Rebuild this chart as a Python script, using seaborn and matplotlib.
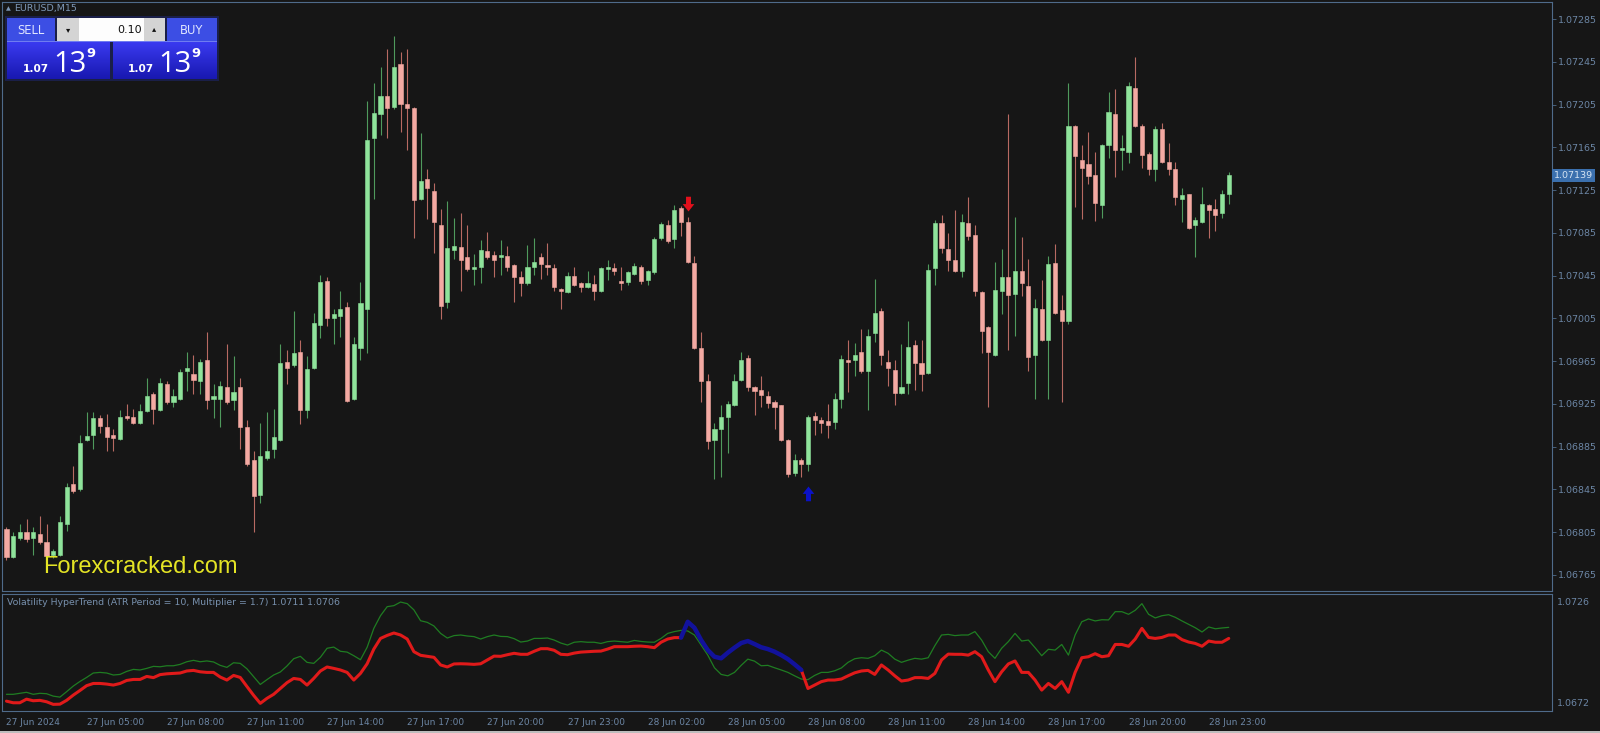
import numpy as np
import pandas as pd
import matplotlib
matplotlib.use("Agg")
from matplotlib import pyplot as plt
from matplotlib.path import Path
from matplotlib.patches import Rectangle
from matplotlib.colors import LinearSegmentedColormap
import matplotlib.transforms as mtransforms
import seaborn as sns

# EURUSD M15 candles, 27 Jun 02:00 -> 28 Jun 23:45
opens = [
    1.06808, 1.06782, 1.06800, 1.06805, 1.06800, 1.06803, 1.06796, 1.06784, 1.06784, 1.06813, 1.06850, 1.06845,
    1.06891, 1.06896, 1.06912, 1.06903, 1.06896, 1.06892, 1.06914, 1.06913, 1.06907, 1.06918, 1.06934, 1.06919,
    1.06944, 1.06927, 1.06930, 1.06956, 1.06953, 1.06946, 1.06966, 1.06930, 1.06930, 1.06941, 1.06929, 1.06941,
    1.06903, 1.06873, 1.06840, 1.06874, 1.06883, 1.06891, 1.06964, 1.06961, 1.06974, 1.06919, 1.06959, 1.06999,
    1.07040, 1.07005, 1.07007, 1.07016, 1.06930, 1.06977, 1.07014, 1.07174, 1.07196, 1.07213, 1.07203, 1.07243,
    1.07206, 1.07202, 1.07117, 1.07135, 1.07124, 1.07092, 1.07020, 1.07069, 1.07072, 1.07062, 1.07051, 1.07053,
    1.07068, 1.07064, 1.07062, 1.07063, 1.07055, 1.07044, 1.07038, 1.07053, 1.07062, 1.07055, 1.07052, 1.07032,
    1.07030, 1.07045, 1.07038, 1.07034, 1.07037, 1.07031, 1.07051, 1.07052, 1.07040, 1.07039, 1.07047, 1.07053,
    1.07041, 1.07048, 1.07080, 1.07092, 1.07079, 1.07108, 1.07095, 1.07057, 1.06977, 1.06946, 1.06891, 1.06902,
    1.06913, 1.06924, 1.06947, 1.06968, 1.06941, 1.06938, 1.06932, 1.06927, 1.06924, 1.06891, 1.06860, 1.06873,
    1.06869, 1.06914, 1.06910, 1.06909, 1.06908, 1.06930, 1.06966, 1.06966, 1.06974, 1.06956, 1.06991, 1.07012,
    1.06964, 1.06957, 1.06935, 1.06945, 1.06980, 1.06963, 1.06954, 1.07052, 1.07094, 1.07070, 1.07060, 1.07049,
    1.07094, 1.07083, 1.07030, 1.06997, 1.06971, 1.07031, 1.07044, 1.07028, 1.07049, 1.07035, 1.06971, 1.07014,
    1.06985, 1.07057, 1.07013, 1.07003, 1.07185, 1.07153, 1.07149, 1.07139, 1.07111, 1.07167, 1.07196, 1.07163,
    1.07161, 1.07221, 1.07185, 1.07159, 1.07145, 1.07182, 1.07151, 1.07145, 1.07117, 1.07121, 1.07092, 1.07095,
    1.07111, 1.07107, 1.07104, 1.07121]
highs = [
    1.06810, 1.06805, 1.06813, 1.06817, 1.06810, 1.06820, 1.06813, 1.06789, 1.06820, 1.06851, 1.06867, 1.06896,
    1.06917, 1.06917, 1.06915, 1.06916, 1.06902, 1.06919, 1.06925, 1.06920, 1.06925, 1.06949, 1.06936, 1.06949,
    1.06946, 1.06939, 1.06958, 1.06974, 1.06971, 1.06967, 1.06992, 1.06944, 1.06946, 1.06981, 1.06970, 1.06949,
    1.06910, 1.06881, 1.06907, 1.06917, 1.06920, 1.06981, 1.06975, 1.07012, 1.06985, 1.06970, 1.07010, 1.07046,
    1.07044, 1.07014, 1.07031, 1.07020, 1.06988, 1.07039, 1.07208, 1.07225, 1.07240, 1.07257, 1.07269, 1.07254,
    1.07257, 1.07203, 1.07178, 1.07145, 1.07132, 1.07107, 1.07115, 1.07099, 1.07104, 1.07092, 1.07065, 1.07078,
    1.07086, 1.07068, 1.07078, 1.07073, 1.07056, 1.07049, 1.07074, 1.07080, 1.07066, 1.07076, 1.07056, 1.07033,
    1.07048, 1.07053, 1.07039, 1.07049, 1.07046, 1.07053, 1.07060, 1.07057, 1.07053, 1.07049, 1.07057, 1.07055,
    1.07050, 1.07081, 1.07095, 1.07097, 1.07111, 1.07110, 1.07100, 1.07063, 1.06992, 1.06953, 1.06907, 1.06924,
    1.06928, 1.06953, 1.06974, 1.06971, 1.06942, 1.06951, 1.06937, 1.06929, 1.06924, 1.06892, 1.06878, 1.06874,
    1.06915, 1.06917, 1.06913, 1.06925, 1.06935, 1.06971, 1.06985, 1.06982, 1.06995, 1.06995, 1.07042, 1.07015,
    1.06975, 1.06966, 1.06981, 1.07003, 1.06985, 1.06985, 1.07056, 1.07097, 1.07102, 1.07085, 1.07106, 1.07103,
    1.07119, 1.07092, 1.07031, 1.06998, 1.07058, 1.07070, 1.07196, 1.07100, 1.07081, 1.07061, 1.07023, 1.07041,
    1.07063, 1.07075, 1.07027, 1.07225, 1.07186, 1.07167, 1.07179, 1.07161, 1.07168, 1.07217, 1.07220, 1.07177,
    1.07226, 1.07250, 1.07187, 1.07161, 1.07185, 1.07188, 1.07169, 1.07151, 1.07127, 1.07121, 1.07100, 1.07128,
    1.07112, 1.07117, 1.07125, 1.07142]
lows = [
    1.06779, 1.06781, 1.06798, 1.06796, 1.06784, 1.06794, 1.06781, 1.06781, 1.06783, 1.06806, 1.06842, 1.06844,
    1.06890, 1.06883, 1.06898, 1.06881, 1.06881, 1.06891, 1.06910, 1.06906, 1.06906, 1.06917, 1.06906, 1.06918,
    1.06925, 1.06922, 1.06929, 1.06937, 1.06934, 1.06934, 1.06920, 1.06912, 1.06903, 1.06925, 1.06919, 1.06883,
    1.06867, 1.06805, 1.06832, 1.06873, 1.06874, 1.06890, 1.06944, 1.06960, 1.06906, 1.06912, 1.06958, 1.06987,
    1.06998, 1.06981, 1.06988, 1.06927, 1.06929, 1.06966, 1.06973, 1.07117, 1.07177, 1.07174, 1.07201, 1.07179,
    1.07163, 1.07080, 1.07116, 1.07098, 1.07066, 1.07004, 1.07015, 1.07061, 1.07031, 1.07049, 1.07036, 1.07038,
    1.07061, 1.07044, 1.07046, 1.07049, 1.07020, 1.07026, 1.07036, 1.07046, 1.07042, 1.07046, 1.07031, 1.07014,
    1.07029, 1.07035, 1.07030, 1.07033, 1.07022, 1.07030, 1.07041, 1.07046, 1.07032, 1.07036, 1.07046, 1.07037,
    1.07036, 1.07047, 1.07078, 1.07076, 1.07071, 1.07082, 1.07057, 1.06976, 1.06927, 1.06883, 1.06855, 1.06857,
    1.06879, 1.06923, 1.06946, 1.06937, 1.06915, 1.06922, 1.06921, 1.06902, 1.06890, 1.06857, 1.06858, 1.06857,
    1.06862, 1.06896, 1.06898, 1.06893, 1.06902, 1.06921, 1.06936, 1.06951, 1.06954, 1.06919, 1.06983, 1.06961,
    1.06942, 1.06924, 1.06934, 1.06934, 1.06938, 1.06937, 1.06953, 1.07036, 1.07066, 1.07049, 1.07048, 1.07044,
    1.07078, 1.07026, 1.06973, 1.06922, 1.06970, 1.07009, 1.06975, 1.06989, 1.07026, 1.06956, 1.06930, 1.06984,
    1.06930, 1.07009, 1.06927, 1.07000, 1.07109, 1.07098, 1.07131, 1.07096, 1.07099, 1.07155, 1.07137, 1.07144,
    1.07150, 1.07184, 1.07146, 1.07139, 1.07134, 1.07150, 1.07139, 1.07111, 1.07095, 1.07089, 1.07062, 1.07094,
    1.07080, 1.07087, 1.07099, 1.07112]
closes = [
    1.06782, 1.06801, 1.06805, 1.06799, 1.06805, 1.06796, 1.06783, 1.06787, 1.06815, 1.06847, 1.06844, 1.06888,
    1.06895, 1.06912, 1.06904, 1.06894, 1.06893, 1.06913, 1.06912, 1.06907, 1.06918, 1.06932, 1.06920, 1.06945,
    1.06927, 1.06932, 1.06955, 1.06959, 1.06947, 1.06964, 1.06929, 1.06932, 1.06942, 1.06927, 1.06936, 1.06903,
    1.06869, 1.06839, 1.06876, 1.06881, 1.06894, 1.06963, 1.06959, 1.06973, 1.06919, 1.06958, 1.07001, 1.07039,
    1.07005, 1.07009, 1.07014, 1.06928, 1.06981, 1.07019, 1.07172, 1.07197, 1.07213, 1.07202, 1.07240, 1.07206,
    1.07202, 1.07116, 1.07134, 1.07127, 1.07095, 1.07017, 1.07071, 1.07073, 1.07060, 1.07051, 1.07053, 1.07069,
    1.07062, 1.07060, 1.07064, 1.07053, 1.07044, 1.07038, 1.07053, 1.07058, 1.07056, 1.07053, 1.07034, 1.07031,
    1.07045, 1.07036, 1.07034, 1.07038, 1.07031, 1.07052, 1.07053, 1.07049, 1.07038, 1.07048, 1.07054, 1.07040,
    1.07049, 1.07079, 1.07093, 1.07077, 1.07106, 1.07095, 1.07058, 1.06977, 1.06946, 1.06890, 1.06902, 1.06913,
    1.06925, 1.06946, 1.06966, 1.06941, 1.06937, 1.06933, 1.06926, 1.06922, 1.06891, 1.06859, 1.06873, 1.06869,
    1.06913, 1.06910, 1.06907, 1.06905, 1.06930, 1.06967, 1.06964, 1.06971, 1.06956, 1.06989, 1.07010, 1.06971,
    1.06959, 1.06935, 1.06941, 1.06978, 1.06963, 1.06953, 1.07050, 1.07094, 1.07071, 1.07060, 1.07049, 1.07095,
    1.07082, 1.07031, 1.06993, 1.06974, 1.07032, 1.07044, 1.07027, 1.07049, 1.07038, 1.06969, 1.07015, 1.06985,
    1.07056, 1.07010, 1.07003, 1.07185, 1.07157, 1.07146, 1.07138, 1.07113, 1.07167, 1.07198, 1.07163, 1.07164,
    1.07222, 1.07185, 1.07158, 1.07145, 1.07182, 1.07151, 1.07145, 1.07119, 1.07120, 1.07090, 1.07097, 1.07112,
    1.07106, 1.07102, 1.07121, 1.07139]

# Volatility HyperTrend: thin green line, thick red trend line (gap while trend is down), blue down segment
ht_fast = [
    1.06779, 1.06779, 1.06784, 1.06789, 1.06779, 1.06784, 1.06782, 1.06770, 1.06765, 1.06792, 1.06820, 1.06843,
    1.06863, 1.06885, 1.06888, 1.06885, 1.06875, 1.06878, 1.06893, 1.06903, 1.06900, 1.06908, 1.06918, 1.06916,
    1.06921, 1.06921, 1.06928, 1.06941, 1.06948, 1.06941, 1.06945, 1.06940, 1.06923, 1.06913, 1.06936, 1.06933,
    1.06906, 1.06867, 1.06828, 1.06852, 1.06875, 1.06890, 1.06920, 1.06956, 1.06968, 1.06938, 1.06933, 1.06963,
    1.07008, 1.07014, 1.06993, 1.06989, 1.06971, 1.06951, 1.07013, 1.07107, 1.07170, 1.07215, 1.07220, 1.07238,
    1.07230, 1.07199, 1.07145, 1.07137, 1.07119, 1.07082, 1.07059, 1.07071, 1.07074, 1.07069, 1.07066, 1.07054,
    1.07066, 1.07074, 1.07067, 1.07066, 1.07056, 1.07039, 1.07044, 1.07057, 1.07057, 1.07059, 1.07049, 1.07034,
    1.07024, 1.07038, 1.07041, 1.07038, 1.07038, 1.07032, 1.07041, 1.07044, 1.07041, 1.07038, 1.07047, 1.07042,
    1.07039, 1.07038, 1.07057, 1.07082, 1.07091, 1.07097, 1.07094, 1.07074, 1.07024, 1.06974, 1.06911, 1.06878,
    1.06871, 1.06888, 1.06923, 1.06954, 1.06944, 1.06921, 1.06923, 1.06911, 1.06900, 1.06888, 1.06871, 1.06855,
    1.06852, 1.06873, 1.06888, 1.06888, 1.06896, 1.06910, 1.06938, 1.06956, 1.06961, 1.06958, 1.06971, 1.06999,
    1.06983, 1.06954, 1.06938, 1.06949, 1.06958, 1.06954, 1.06961, 1.07021, 1.07074, 1.07077, 1.07071, 1.07074,
    1.07074, 1.07091, 1.07049, 1.06991, 1.06958, 1.07008, 1.07041, 1.07082, 1.07044, 1.07049, 1.07011, 1.06971,
    1.07003, 1.06999, 1.07027, 1.06974, 1.07074, 1.07140, 1.07154, 1.07144, 1.07150, 1.07149, 1.07190, 1.07190,
    1.07177, 1.07197, 1.07230, 1.07177, 1.07159, 1.07170, 1.07175, 1.07162, 1.07144, 1.07127, 1.07110, 1.07089,
    1.07114, 1.07105, 1.07109, 1.07112]
nan = None
ht_trend = [
    1.06745, 1.06737, 1.06737, 1.06755, 1.06747, 1.06749, 1.06742, 1.06729, 1.06730, 1.06749, 1.06775, 1.06798,
    1.06822, 1.06833, 1.06833, 1.06830, 1.06825, 1.06833, 1.06848, 1.06853, 1.06853, 1.06868, 1.06862, 1.06877,
    1.06881, 1.06883, 1.06885, 1.06895, 1.06898, 1.06891, 1.06888, 1.06888, 1.06865, 1.06850, 1.06873, 1.06863,
    1.06818, 1.06774, 1.06734, 1.06759, 1.06779, 1.06808, 1.06837, 1.06858, 1.06853, 1.06825, 1.06858, 1.06895,
    1.06915, 1.06908, 1.06900, 1.06888, 1.06850, 1.06883, 1.06931, 1.07004, 1.07057, 1.07072, 1.07084, 1.07074,
    1.07054, 1.06991, 1.06973, 1.06968, 1.06963, 1.06925, 1.06915, 1.06930, 1.06931, 1.06930, 1.06928, 1.06931,
    1.06950, 1.06969, 1.06968, 1.06976, 1.06983, 1.06978, 1.06978, 1.06993, 1.07006, 1.07006, 1.06998, 1.06978,
    1.06976, 1.06984, 1.06989, 1.06991, 1.06993, 1.06994, 1.07004, 1.07016, 1.07016, 1.07016, 1.07018, 1.07019,
    1.07016, 1.07011, 1.07038, 1.07054, 1.07061, 1.07061, nan, nan, nan, nan, nan, nan,
    nan, nan, nan, nan, nan, nan, nan, nan, nan, nan, nan, 1.06900,
    1.06808, 1.06825, 1.06842, 1.06850, 1.06850, 1.06855, 1.06871, 1.06886, 1.06895, 1.06898, 1.06878, 1.06925,
    1.06900, 1.06871, 1.06845, 1.06850, 1.06862, 1.06862, 1.06858, 1.06883, 1.06950, 1.06979, 1.06978, 1.06978,
    1.06974, 1.06991, 1.06966, 1.06900, 1.06842, 1.06891, 1.06930, 1.06945, 1.06888, 1.06888, 1.06850, 1.06800,
    1.06833, 1.06808, 1.06842, 1.06789, 1.06888, 1.06961, 1.06966, 1.06981, 1.06966, 1.06971, 1.07027, 1.07027,
    1.07018, 1.07054, 1.07107, 1.07062, 1.07057, 1.07062, 1.07074, 1.07074, 1.07051, 1.07039, 1.07032, 1.07018,
    1.07044, 1.07038, 1.07038, 1.07057]
ht_down_start = 101
ht_down = [1.07061, 1.07140, 1.07110, 1.07049, 1.06999, 1.06966, 1.06958, 1.06986, 1.07011, 1.07034,
           1.07044, 1.07029, 1.07013, 1.07004, 1.06991, 1.06974, 1.06954, 1.06928, 1.06900]

sell_signal = (102, 1.07112)
buy_signal = (120, 1.06842)
last_price = 1.07139
price_ticks = [1.07285, 1.07245, 1.07205, 1.07165, 1.07125, 1.07085, 1.07045,
               1.07005, 1.06965, 1.06925, 1.06885, 1.06845, 1.06805, 1.06765]
time_ticks = [0, 12, 24, 36, 48, 60, 72, 84, 96, 108, 120, 132, 144, 156, 168, 180]
time_labels = ["27 Jun 2024", "27 Jun 05:00", "27 Jun 08:00", "27 Jun 11:00", "27 Jun 14:00",
               "27 Jun 17:00", "27 Jun 20:00", "27 Jun 23:00", "28 Jun 02:00", "28 Jun 05:00",
               "28 Jun 08:00", "28 Jun 11:00", "28 Jun 14:00", "28 Jun 17:00", "28 Jun 20:00",
               "28 Jun 23:00"]

BG = "#161616"
FRAME = "#4f6b8a"
TXT = "#6c86a5"
BULL, BEAR = "#8fe39b", "#f4aaa3"
BULL_WICK, BEAR_WICK = "#4f9a5d", "#b86a62"

sns.set_theme(style="dark", rc={"axes.facecolor": BG, "figure.facecolor": BG,
                                "savefig.facecolor": BG, "axes.grid": False})
plt.rcParams["font.family"] = ["DejaVu Sans"]

df = pd.DataFrame({"open": opens, "high": highs, "low": lows, "close": closes})
df["bar"] = np.arange(len(df))
up = df["close"] >= df["open"]

ind = pd.DataFrame({"bar": df["bar"], "fast": ht_fast,
                    "trend": pd.to_numeric(pd.Series(ht_trend), errors="coerce")})
down = pd.DataFrame({"bar": np.arange(ht_down_start, ht_down_start + len(ht_down)), "down": ht_down})

W, H = 1600, 733
fig = plt.figure(figsize=(16, 7.33), dpi=100)


def px_axes(x0, y0, x1, y1):
    return fig.add_axes([x0 / W, 1 - y1 / H, (x1 - x0) / W, (y1 - y0) / H])


ax = px_axes(2, 2, 1552, 591)
ax2 = px_axes(2, 594, 1552, 711)
XLIM = (-0.67, 231.4)

# candles
for mask, body, wick in ((up, BULL, BULL_WICK), (~up, BEAR, BEAR_WICK)):
    d = df[mask]
    ax.vlines(d["bar"], d["low"], d["high"], color=wick, linewidth=0.8, zorder=2)
    bottom = np.minimum(d["open"], d["close"])
    height = np.maximum((d["close"] - d["open"]).abs(), 0.000012)
    ax.bar(d["bar"], height, bottom=bottom, width=0.62, color=body,
           edgecolor=body, linewidth=0.4, zorder=3)

# signal arrows
verts = [(-0.32, 1), (0.32, 1), (0.32, 0.05), (0.75, 0.05), (0, -0.9), (-0.75, 0.05), (-0.32, 0.05), (-0.32, 1)]
codes = [Path.MOVETO] + [Path.LINETO] * 6 + [Path.CLOSEPOLY]
arrow_down = Path(verts, codes)
arrow_up = Path([(x, -y) for x, y in verts], codes)
ax.scatter([sell_signal[0]], [sell_signal[1]], marker=arrow_down, s=125, color="#e3101c", zorder=5, linewidths=0)
ax.scatter([buy_signal[0]], [buy_signal[1]], marker=arrow_up, s=125, color="#0b12c8", zorder=5, linewidths=0)

ax.set_xlim(*XLIM)
ax.set_ylim(1.06750, 1.07301)
ax.set_xticks([])
ax.yaxis.tick_right()
ax.set_yticks(price_ticks)
ax.set_yticklabels([f"{v:.5f}" for v in price_ticks])
ax.tick_params(axis="y", length=3, width=0.6, color=FRAME, labelcolor=TXT, labelsize=6.8, pad=1.5)

# current price label
blend = mtransforms.blended_transform_factory(ax.transAxes, ax.transData)
ax.text(1.001, last_price, f"{last_price:.5f}", transform=blend, ha="left", va="center",
        fontsize=6.8, color="#d6e4f3",
        bbox=dict(boxstyle="square,pad=0.2", fc="#3b70ae", ec="none"))

# indicator window
sns.lineplot(data=ind, x="bar", y="fast", color="#1f7d22", linewidth=0.9, ax=ax2)
for seg in (ind.loc[:ht_down_start], ind.loc[ht_down_start + len(ht_down) - 1:]):
    sns.lineplot(data=seg, x="bar", y="trend", color="#e01a1a", linewidth=2.2,
                 solid_capstyle="round", ax=ax2)
sns.lineplot(data=down, x="bar", y="down", color="#12129c", linewidth=3.2,
             solid_capstyle="round", ax=ax2)
ax2.set_xlim(*XLIM)
ax2.set_ylim(1.06696, 1.07278)
ax2.set_xlabel("")
ax2.set_ylabel("")
ax2.set_yticks([])
ax2.set_xticks(time_ticks)
ax2.set_xticklabels(time_labels)
for lab in ax2.get_xticklabels():
    lab.set_horizontalalignment("left")
ax2.tick_params(axis="x", length=3, width=0.6, color=FRAME, labelcolor=TXT, labelsize=6.5, pad=2)
ax2.text(0.0035, 0.93, "Volatility HyperTrend (ATR Period = 10, Multiplier = 1.7) "
         f"{ht_fast[-1]:.4f} {ht_trend[-1]:.4f}",
         transform=ax2.transAxes, fontsize=6.75, color="#7891ae", va="center")
ax2.text(1.003, 0.93, "1.0726", transform=ax2.transAxes, fontsize=6.8, color=TXT, va="center")
ax2.text(1.003, 0.06, "1.0672", transform=ax2.transAxes, fontsize=6.8, color=TXT, va="center")

for a in (ax, ax2):
    for sp in a.spines.values():
        sp.set_visible(True)
        sp.set_color(FRAME)
        sp.set_linewidth(0.8)

# overlay in pixel coordinates: header, one-click trading panel, watermark
ov = fig.add_axes([0, 0, 1, 1], zorder=10)
ov.patch.set_alpha(0)


def box(x0, y0, x1, y1, color, z=1):
    ov.add_patch(Rectangle((x0, y0), x1 - x0, y1 - y0, color=color, lw=0, zorder=z))


ov.text(6, 9, "\u25b2", fontsize=4.5, color="#7d97b5", va="center")
ov.text(14, 9, "EURUSD,M15", fontsize=6.8, color="#7d97b5", va="center")

box(5, 16, 219, 81, "#1a1f48")
box(7, 18, 55, 41, "#3c4ee4")
box(167, 18, 217, 41, "#3c4ee4")
box(57, 18, 79, 41, "#d4d4d4")
box(79, 18, 144, 41, "#fdfdfd")
box(144, 18, 165, 41, "#d4d4d4")
grad = LinearSegmentedColormap.from_list("btn", ["#3a3af0", "#1818b0"])
g = np.linspace(0, 1, 64).reshape(-1, 1)
for x0, x1 in ((7, 110), (113, 217)):
    ov.imshow(g, extent=(x0, x1, 79, 42), cmap=grad, aspect="auto",
              interpolation="bilinear", zorder=2)
box(7, 41, 217, 42, "#6f7cf0", z=2.5)

ov.text(31, 30, "SELL", fontsize=8.3, color="#dfe5ff", ha="center", va="center", zorder=4)
ov.text(192, 30, "BUY", fontsize=8.3, color="#dfe5ff", ha="center", va="center", zorder=4)
ov.text(68, 30, "\u25be", fontsize=6, color="#111111", ha="center", va="center", zorder=4)
ov.text(154.5, 29, "\u25b4", fontsize=6, color="#111111", ha="center", va="center", zorder=4)
ov.text(142, 30, "0.10", fontsize=8, color="#111111", ha="right", va="center", zorder=4)
for x_small, x_big, x_sup in ((23, 53, 86), (128, 158, 191)):
    ov.text(x_small, 72, "1.07", fontsize=7.6, fontweight="bold", color="white", va="baseline", zorder=4)
    ov.text(x_big, 72, "13", fontsize=21, family="Open Sans", color="white", va="baseline", zorder=4)
    ov.text(x_sup, 47, "9", fontsize=9.5, fontweight="bold", color="white", va="top", zorder=4)

ov.text(43, 573, "Forexcracked.com", fontsize=17, family="Liberation Sans",
        color="#e4e425", va="baseline")
box(0, 731, 1600, 733, "#bdbdbd")

ov.set_xlim(0, W)
ov.set_ylim(H, 0)
ov.axis("off")

fig.savefig("out.png", dpi=100)
